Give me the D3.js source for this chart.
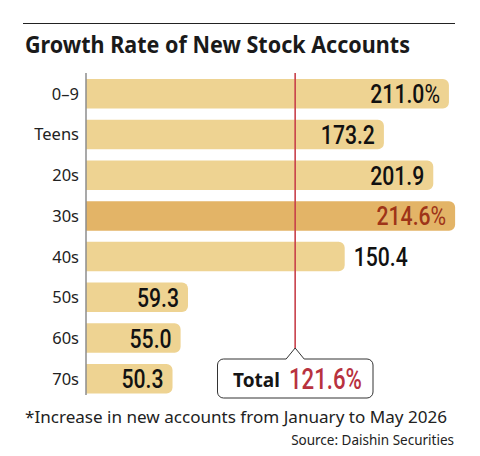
<!DOCTYPE html>
<html><head><meta charset="utf-8">
<script src="https://cdn.jsdelivr.net/npm/d3@7"></script>
<style>body{margin:0;background:#fff}svg{display:block}</style>
</head><body>
<script>
const categories = ["0–9","Teens","20s","30s","40s","50s","60s","70s"];
const values = [211.0,173.2,201.9,214.6,150.4,59.3,55.0,50.3];
const valueLabels = ["211.0%","173.2","201.9","214.6%","150.4","59.3","55.0","50.3"];
const highlight = "30s";
const totalValue = 121.6;
const totalLabel = "121.6%";
const title = "Growth Rate of New Stock Accounts";
const note = "*Increase in new accounts from January to May 2026";
const source = "Source: Daishin Securities";

const W=480,H=456;
const svg=d3.select("body").append("svg").attr("width",W).attr("height",H);
const x=d3.scaleLinear().domain([0,200]).range([86,430]);
const y=d3.scaleBand().domain(categories).range([73.4,399.1]).paddingInner(0.275).paddingOuter(0.1375);

svg.append("line").attr("x1",23).attr("x2",455).attr("y1",23.5).attr("y2",23.5).attr("stroke","#222").attr("stroke-width",1);
svg.append("text").attr("x",25).attr("y",53).text(title)
  .attr("font-family","Noto Sans").attr("font-weight",700).attr("font-size",22.5).attr("fill","#1a1a1a")
  .attr("textLength",385).attr("lengthAdjust","spacingAndGlyphs");

function barPath(x0,y0,x1,h,r){
  return `M${x0},${y0}H${x1-r}A${r},${r} 0 0 1 ${x1},${y0+r}V${y0+h-r}A${r},${r} 0 0 1 ${x1-r},${y0+h}H${x0}Z`;
}
const data=categories.map((c,i)=>({c,v:values[i],l:valueLabels[i]}));
svg.selectAll("path.bar").data(data).join("path").attr("class","bar")
  .attr("d",d=>barPath(x(0),y(d.c),x(d.v),y.bandwidth(),6))
  .attr("fill",d=>d.c===highlight?"#E3B467":"#EED392");

svg.selectAll("text.cat").data(data).join("text").attr("class","cat")
  .attr("x",79).attr("y",d=>y(d.c)+y.bandwidth()/2+6).attr("text-anchor","end")
  .attr("font-family","Noto Sans").attr("font-size",16.5).attr("fill","#222").text(d=>d.c);

svg.append("line").attr("x1",x(0)).attr("x2",x(0)).attr("y1",73).attr("y2",395).attr("stroke","#8c8c8c").attr("stroke-width",1.5);

const sx=0.8;
const isInside=d=>x(d.v)-x(0) > 270 || d.v<100;
const vl=svg.selectAll("g.val").data(data).join("g").attr("class","val")
  .attr("transform",d=>{
    const px = isInside(d) ? x(d.v)-9 : x(d.v)+9;
    return `translate(${px},${y(d.c)+y.bandwidth()/2+9.5}) scale(${sx},1)`;
  });
const vt=vl.append("text")
  .attr("text-anchor",d=>isInside(d)?"end":"start")
  .attr("font-family","Roboto").attr("font-weight",500).attr("font-size",26.5)
  .attr("fill",d=>d.c===highlight?"#9E3418":"#111");
vt.each(function(d){
  const t=d3.select(this);
  const m=d.l.match(/^([\d.]+)(%?)$/);
  t.append("tspan").text(m[1]);
  if(m[2]) t.append("tspan").attr("font-weight",400).text("%");
});

const tx=x(totalValue);
svg.append("line").attr("x1",tx).attr("x2",tx).attr("y1",73).attr("y2",349).attr("stroke","#C8404A").attr("stroke-width",1.6);

const bx0=217.5,bx1=373,by0=359,by1=398,r=6;
const cp=`M${bx0+r},${by0}H${tx-9}L${tx},${348}L${tx+9},${by0}H${bx1-r}A${r},${r} 0 0 1 ${bx1},${by0+r}V${by1-r}A${r},${r} 0 0 1 ${bx1-r},${by1}H${bx0+r}A${r},${r} 0 0 1 ${bx0},${by1-r}V${by0+r}A${r},${r} 0 0 1 ${bx0+r},${by0}Z`;
svg.append("path").attr("d",cp).attr("fill","#fff").attr("stroke","#333").attr("stroke-width",1);
svg.append("text").attr("x",233).attr("y",387).text("Total")
  .attr("font-family","Noto Sans").attr("font-weight",700).attr("font-size",19).attr("fill","#151515");
svg.append("g").attr("transform",`translate(289,389) scale(0.74,1)`)
  .append("text").attr("font-family","Roboto").attr("font-weight",500).attr("font-size",30).attr("fill","#B8323F").text(totalLabel);

svg.append("text").attr("x",25).attr("y",423).text(note)
  .attr("font-family","Noto Sans").attr("font-size",16).attr("fill","#222")
  .attr("textLength",422).attr("lengthAdjust","spacingAndGlyphs");
svg.append("text").attr("x",454).attr("y",445).attr("text-anchor","end").text(source)
  .attr("font-family","Noto Sans").attr("font-size",13.5).attr("fill","#222");
</script>
</body></html>
